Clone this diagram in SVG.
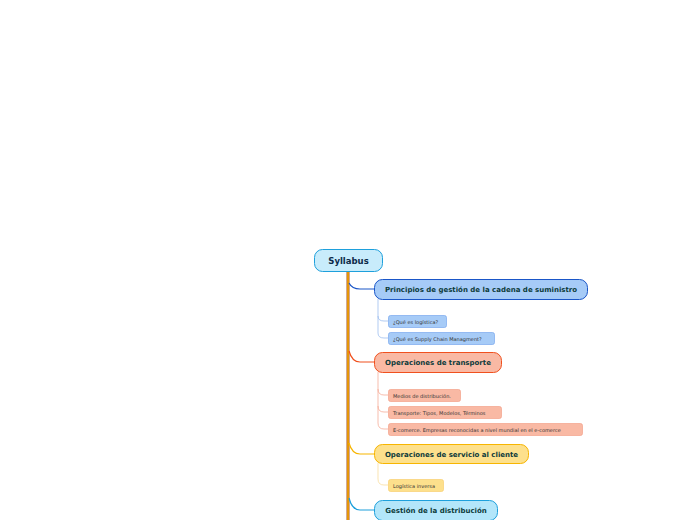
<svg xmlns="http://www.w3.org/2000/svg" width="696" height="520" viewBox="0 0 696 520">
<style>
text{font-family:"DejaVu Sans",Verdana,sans-serif;}
.m{font-size:7px;font-weight:bold;fill:#0d3b3b}
.s{font-size:5px;fill:#333}
.c{fill:none;stroke-width:1.2}
</style>
<rect width="696" height="520" fill="#fff"/>
<g id="connectors">
<line x1="348" y1="271" x2="348" y2="520" stroke="#a0522d" stroke-width="3"/>
<line x1="348" y1="271" x2="348" y2="520" stroke="#f7a800" stroke-width="1.6"/>
<path class="c" stroke="#1a56c8" d="M349,283 Q352,289 360,289 H374"/>
<path class="c" stroke="#f0501e" d="M349,351 Q352,362 360,362 H374"/>
<path class="c" stroke="#f7b500" d="M349,443 Q352,454 360,454 H374"/>
<path class="c" stroke="#1ea0dc" d="M349,498 Q352,510 360,510 H374"/>
<g stroke-width="0.7" fill="none">
<path stroke="#8fb4ec" d="M378,299 V316 Q378,321 384,321 H388 M378,316 V333 Q378,338 384,338 H388"/>
<path stroke="#f3a08a" d="M378,372 V389 Q378,395 384,395 H388 M378,389 V406 Q378,412 384,412 H388 M378,406 V423 Q378,429 384,429 H388"/>
<path stroke="#f8d890" d="M378,463 V479 Q378,485 384,485 H388"/>
</g>
</g>
<g id="root"><rect x="314.5" y="249.5" width="68" height="22" rx="8" fill="#c8ecfb" stroke="#1ea0dc"/><text x="348.5" y="264" text-anchor="middle" style="font-size:8.5px;font-weight:bold;fill:#0d2a4a">Syllabus</text></g>
<g id="n1"><rect x="374.5" y="279.5" width="213" height="20" rx="8" fill="#a6cbf7" stroke="#1a56c8"/><text class="m" x="481" y="292" text-anchor="middle">Principios de gestión de la cadena de suministro</text></g>
<g id="n1a"><rect x="388.5" y="315.5" width="58" height="12" rx="2" fill="#a6cbf7" stroke="#7aa8ee" stroke-width="0.7"/><text class="s" x="393" y="323.5">¿Qué es logística?</text></g>
<g id="n1b"><rect x="388.5" y="332.5" width="106" height="12" rx="2" fill="#a6cbf7" stroke="#7aa8ee" stroke-width="0.7"/><text class="s" x="393" y="340.5">¿Qué es Supply Chain Managment?</text></g>
<g id="n2"><rect x="374.5" y="352.5" width="127" height="20" rx="8" fill="#f9b9a4" stroke="#f0501e"/><text class="m" x="438" y="365" text-anchor="middle">Operaciones de transporte</text></g>
<g id="n2a"><rect x="388.5" y="389.5" width="72" height="12" rx="2" fill="#f9b9a4" stroke="#f3a08a" stroke-width="0.7"/><text class="s" x="393" y="397.5">Medios de distribución.</text></g>
<g id="n2b"><rect x="388.5" y="406.5" width="113" height="12" rx="2" fill="#f9b9a4" stroke="#f3a08a" stroke-width="0.7"/><text class="s" x="393" y="414.5">Transporte: Tipos, Modelos, Términos</text></g>
<g id="n2c"><rect x="388.5" y="423.5" width="194" height="12" rx="2" fill="#f9b9a4" stroke="#f3a08a" stroke-width="0.7"/><text class="s" x="393" y="431.5">E-comerce. Empresas reconocidas a nivel mundial en el e-comerce</text></g>
<g id="n3"><rect x="374.5" y="444.5" width="154" height="19" rx="8" fill="#fde08c" stroke="#f7b500"/><text class="m" x="451.5" y="457" text-anchor="middle">Operaciones de servicio al cliente</text></g>
<g id="n3a"><rect x="388.5" y="479.5" width="55" height="12" rx="2" fill="#fde08c" stroke="#f8d070" stroke-width="0.7"/><text class="s" x="393" y="487.5">Logística inversa</text></g>
<g id="n4"><rect x="374.5" y="500.5" width="123" height="20" rx="8" fill="#b3e6fa" stroke="#1ea0dc"/><text class="m" x="436" y="513" text-anchor="middle">Gestión de la distribución</text></g>
</svg>
